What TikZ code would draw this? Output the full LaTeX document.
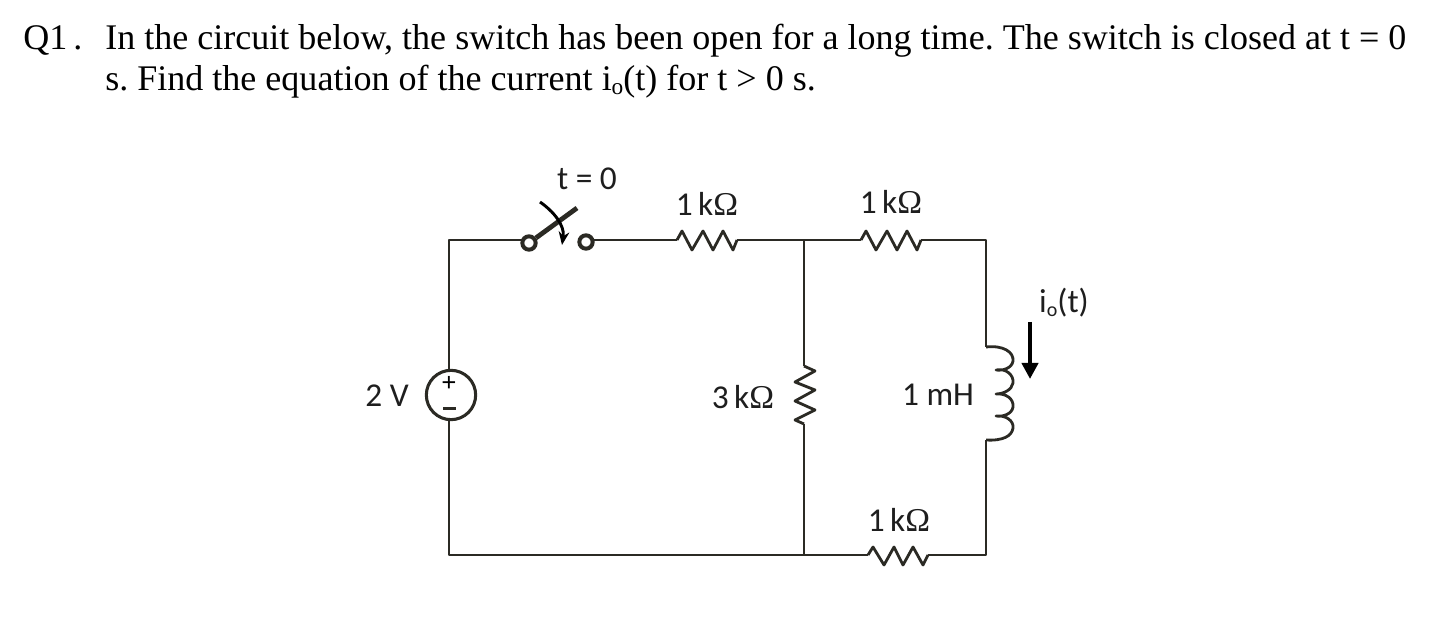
\documentclass[tikz,border=0pt]{standalone}
\usepackage{fontspec}
\setmainfont{Liberation Serif}
\newfontfamily\labelfont{Carlito}
\newfontfamily\symfont{Liberation Serif}
\usetikzlibrary{arrows.meta}
\definecolor{wirecol}{HTML}{2B2A24}
\definecolor{inkcol}{HTML}{1E1E1E}
\newcommand{\ohmsym}{{\symfont\fontsize{25}{25}\selectfont Ω}}
\newcommand{\kohm}{1\kern4pt k\ohmsym}
\tikzset{
  wire/.style={draw=wirecol,line width=2pt,line join=round},
  thinwire/.style={draw=wirecol,line width=2.1pt,line join=round},
  question/.style={anchor=base west,inner sep=0pt,text=black,font=\fontsize{27.03}{30}\selectfont},
  comp/.style={text=inkcol,inner sep=0pt,font=\labelfont\fontsize{25}{28}\selectfont},
  terminal/.style={circle,draw=wirecol,line width=3pt,fill=white,minimum size=10pt,inner sep=0pt},
  sourcebody/.style={circle,draw=wirecol,line width=2.3pt,fill=white,minimum size=37pt,inner sep=0pt}
}
\begin{document}
\frenchspacing
\begin{tikzpicture}[x=0.75pt,y=-0.75pt]
\useasboundingbox (0,0) rectangle (1444,630);
% corners and junctions
\coordinate (tl) at (449,240);
\coordinate (bl) at (449,555);
\coordinate (jt) at (804,240);
\coordinate (jb) at (804,555);
\coordinate (tr) at (986,240);
\coordinate (br) at (986,555);
\coordinate (r1a) at (677,240);
\coordinate (r1b) at (737,240);
\coordinate (r2a) at (861,240);
\coordinate (r2b) at (921,240);
\coordinate (r3a) at (804,366);
\coordinate (r3b) at (804,424);
\coordinate (r4a) at (868,555);
\coordinate (r4b) at (928,555);
\coordinate (la) at (986,347);
\coordinate (lb) at (986,440);
\coordinate (swl) at (523,240);
\coordinate (swr) at (592,240);
% components
\node[sourcebody] (src) at (451,395) {};
\node[terminal] (swa) at (529,243) {};
\node[terminal] (swb) at (586,242) {};
\coordinate (blade) at (577,208);
\coordinate (arca) at (540,202);
\coordinate (arcb) at (562,245);
\coordinate (arrowtop) at (1030,322);
\coordinate (arrowtip) at (1030,379);
% wires
\draw[wire] (swl) -- (tl) -- (src.north -| tl);
\draw[wire] (src.south -| bl) -- (bl) -- (r4a);
\draw[wire] (swr) -- (r1a);
\draw[wire] (r1b) -- (r2a);
\draw[wire] (r2b) -- (tr) -- (la);
\draw[wire] (lb) -- (br) -- (r4b);
\draw[wire] (jt) -- (r3a);
\draw[wire] (r3b) -- (jb);
% resistors
\draw[thinwire] (r1a) -- ++(5,-9) -- ++(10,19) -- ++(11,-19) -- ++(10,19) -- ++(10,-19) -- ++(10,19) -- (r1b);
\draw[thinwire] (r2a) -- ++(5,-9) -- ++(10,19) -- ++(11,-19) -- ++(10,19) -- ++(10,-19) -- ++(10,19) -- (r2b);
\draw[thinwire] (r4a) -- ++(5,-8) -- ++(11,18) -- ++(10,-18) -- ++(9,18) -- ++(10,-18) -- ++(10,18) -- (r4b);
\draw[thinwire] (r3a) -- ++(11,5) -- ++(-20,11) -- ++(20,8) -- ++(-20,11) -- ++(20,9) -- ++(-20,10) -- (r3b);
% inductor
\draw[thinwire] (la) .. controls (1003,345) and (1014,352) .. (1013,361)
  .. controls (1012,368) and (1003,371) .. (996,370)
  .. controls (1006,368) and (1014,375) .. (1013,383)
  .. controls (1012,390) and (1003,394) .. (996,394)
  .. controls (1006,393) and (1014,399) .. (1013,407)
  .. controls (1012,414) and (1003,417) .. (996,416)
  .. controls (1006,415) and (1014,421) .. (1013,428)
  .. controls (1012,436) and (1003,441) .. (lb);
% switch
\draw[draw=wirecol,line width=3.6pt] (swa) -- (blade);
\draw[draw=black,line width=2.2pt,-{Stealth[length=10pt,width=8pt]}] (arca) .. controls (553,211) and (565,225) .. (arcb);
% source polarity
\node[inner sep=0pt] (plus) at (449,384) {\fontsize{20}{20}\selectfont\bfseries +};
\draw[draw=wirecol,line width=1.6pt] (443,408.5) -- (456,408.5);
% current arrow
\draw[draw=black,line width=3.2pt,-{Triangle[length=12pt,width=12pt]}] (arrowtop) -- (arrowtip);
% component labels
\node[comp] (ltsw) at (587,179) {t = 0};
\node[comp] (lr1) at (707,204) {\kohm};
\node[comp] (lr2) at (891,202) {\kohm};
\node[comp] (lr3) at (743,397) {3\kern4pt k\ohmsym};
\node[comp] (ll) at (938,395) {1 mH};
\node[comp] (lr4) at (899,520) {\kohm};
\node[comp] (lv) at (387,396) {2 V};
\node[comp] (li) at (1064,303) {i\raisebox{-3pt}{\fontsize{15}{15}\selectfont o}(t)};
% question text
\node[question] (qn) at (23,50) {Q1\kern4.5pt.};
\node[question] (q1) at (105,50) {In the circuit below, the switch has been open for a long time. The switch is closed at t = 0};
\node[question] (q2) at (105,91) {s. Find the equation of the current i\raisebox{-2.5pt}{\fontsize{17.5}{17.5}\selectfont o}(t) for t > 0 s.};
\end{tikzpicture}
\end{document}
